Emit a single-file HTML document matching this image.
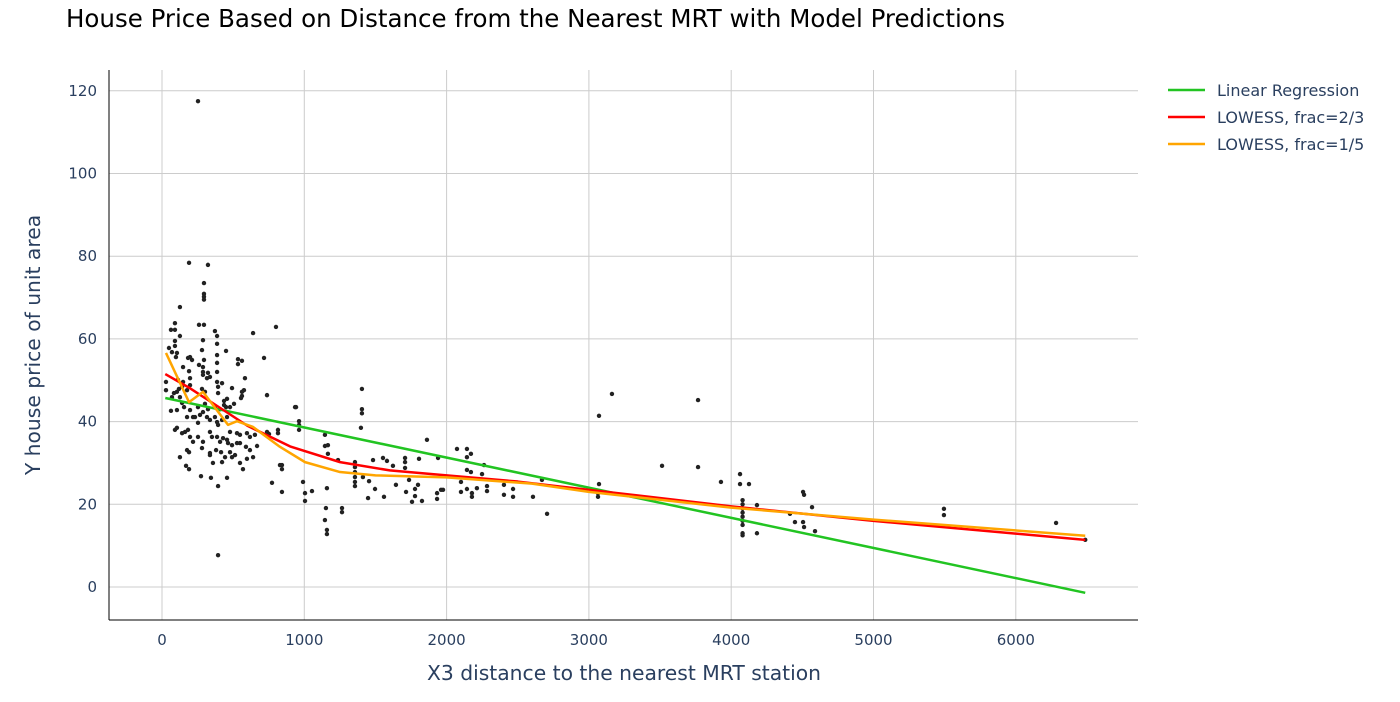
<!DOCTYPE html>
<html><head><meta charset="utf-8"><style>
body{margin:0;background:#fff;font-family:"Liberation Sans","DejaVu Sans",sans-serif;}
svg text{font-family:"DejaVu Sans","Liberation Sans",sans-serif;fill:#2a3f5f;}
</style></head><body>
<svg id="chart" width="1400" height="697" viewBox="0 0 1400 697" xmlns="http://www.w3.org/2000/svg">
<text x="66" y="27" font-size="24.5" style="fill:#000">House Price Based on Distance from the Nearest MRT with Model Predictions</text>
<g id="grid"></g><g id="pts"></g><g id="lines"></g><g id="axes"></g>
<text x="624" y="680" font-size="20.3" text-anchor="middle">X3 distance to the nearest MRT station</text>
<text transform="translate(40,345) rotate(-90)" font-size="20.3" text-anchor="middle">Y house price of unit area</text>
<g>
<line x1="1168" y1="90" x2="1205" y2="90" stroke="#22c422" stroke-width="2.5"/>
<text x="1217" y="96" font-size="16">Linear Regression</text>
<line x1="1168" y1="117" x2="1205" y2="117" stroke="#ff0000" stroke-width="2.5"/>
<text x="1217" y="123" font-size="16">LOWESS, frac=2/3</text>
<line x1="1168" y1="144" x2="1205" y2="144" stroke="#ffa500" stroke-width="2.5"/>
<text x="1217" y="150" font-size="16">LOWESS, frac=1/5</text>
</g>
</svg>
<script>
const xTicks=[0,1000,2000,3000,4000,5000,6000];
const yTicks=[0,20,40,60,80,100,120];
const ptX=[3064,3064,3071,3071,3162,3514,3767,3767,3928,4062,4062,4080,4080,4080,4080,4080,4080,4080,4080,4080,4125,4181,4181,4413,4448,4505,4512,4505,4512,4568,4589,5495,5495,6283,6488,
942,963,963,829,843,991,1005,1005,1054,1145,1145,1166,1166,1159,1152,1145,1159,1159,1265,1265,1237,1356,1356,1356,1356,1356,1356,1405,1405,1405,1398,1412,1448,1455,1483,1497,1553,1581,1560,1623,1644,1708,1708,1708,1715,1736,1778,1778,1757,1799,1806,1827,1862,1933,1933,1940,1961,1975,2073,2101,2101,2143,2143,2171,2143,2171,2178,2178,2143,2213,2249,2263,2284,2284,2403,2403,2467,2467,2607,2670,2706,
190,323,295,295,295,295,126,91,63,91,126,260,295,372,387,640,801,91,91,49,70,105,98,288,281,387,450,387,197,211,183,387,295,534,562,534,717,148,190,260,288,288,288,323,337,316,387,28,112,197,141,197,387,422,394,492,583,576,562,28,84,105,119,176,281,302,394,457,436,562,555,738,63,105,141,155,197,253,302,323,372,408,436,450,478,506,91,105,141,162,183,176,218,267,253,288,316,337,372,387,394,422,457,478,527,548,597,618,653,738,752,815,815,197,253,288,337,351,387,408,429,457,464,492,527,176,190,281,337,380,415,443,478,513,590,618,668,169,190,274,344,394,457,337,422,548,569,597,640,492,358,218,232,126,148,70,773,843,843,935,963,126,548,253,394];
const ptY=[21.8,22.7,24.9,41.4,46.7,29.3,29,45.2,25.4,24.9,27.3,21,20,19,18,17,16,15,13,12.5,24.9,19.8,13,17.7,15.7,23,22.3,15.7,14.5,19.3,13.5,18.9,17.4,15.5,11.4,
43.5,40.1,38,29.5,23,25.4,22.7,20.8,23.2,36.8,34.1,34.3,32.2,23.9,19.1,16.2,13.8,12.8,19.1,18.1,30.7,30.2,29,27.8,26.6,25.4,24.4,47.9,43,42,38.5,26.6,21.5,25.6,30.7,23.7,31.2,30.5,21.8,29.3,24.7,31.2,30.2,28.8,23,25.9,23.7,22,20.6,24.7,31,20.8,35.6,22.7,21.3,31.2,23.5,23.5,33.4,25.4,23,33.4,31.4,32.2,28.3,27.8,22.7,21.8,23.7,23.9,27.3,29.5,24.4,23.2,24.7,22.3,23.7,21.8,21.8,25.9,17.7,
78.4,77.9,73.5,70.9,70.2,69.5,67.7,63.8,62.2,62.2,60.7,63.4,63.4,61.9,60.7,61.4,62.9,59.5,58.3,57.8,56.8,56.6,55.6,59.7,57.3,58.8,57.1,56.1,55.6,54.9,55.4,54.2,54.9,55.1,54.7,53.9,55.4,53.2,52.2,53.7,53.2,52,51.3,51.8,50.8,50.5,52,49.6,50.1,50.5,48.4,48.8,49.6,49.3,48.4,48.1,50.5,47.6,47.2,47.6,46.9,47.2,47.9,47.6,47.9,47.2,46.9,45.5,45,46.2,45.7,46.4,42.6,42.8,44.5,43.5,42.8,43.5,44.3,43,43.5,43,44,43.5,43.5,44.3,38,38.5,37.2,37.5,38,41.1,41.1,41.6,39.7,42.3,41.1,40.4,41.1,39.9,39.2,40.4,41.1,37.5,37.2,36.8,37.2,36.3,36.8,37.5,37,38,37.2,36.3,36.3,35.1,37.5,36.3,36.3,35.1,36,35.6,34.8,34.3,34.8,33.1,32.6,33.6,31.9,33.1,32.6,31.4,32.6,31.9,33.9,33.1,34.1,29.3,28.5,26.8,26.4,24.4,26.4,32.4,30.2,30,28.5,31,31.4,31.4,30,35.1,41.1,45.9,49.6,45.9,25.2,29.5,28.5,43.5,39.2,31.4,34.8,117.5,7.7];
const linX=[23,6488];
const linY=[45.7,-1.4];
const l23X=[23,200,400,600,900,1251,1600,2000,2500,3000,4000,5000,6488];
const l23Y=[51.5,48,43.5,39,34,30.2,28.2,27,25.5,23.5,19.5,16,11.4];
const l15X=[28,190,288,464,527,640,829,1005,1251,1500,2000,2600,3000,4000,5000,6488];
const l15Y=[56.6,44.7,47.2,39.2,40.1,38.7,33.9,30.2,27.8,27,26.5,25,23,19.2,16.3,12.4];

const L=109,R=1138,T=70,B=620;
const sx=v=>162+v*0.1423;
const sy=v=>587-v*4.135;
const NS='http://www.w3.org/2000/svg';
function mk(tag,parent,attrs){const e=document.createElementNS(NS,tag);for(const k in attrs)e.setAttribute(k,attrs[k]);parent.appendChild(e);return e;}
const grid=document.getElementById('grid'),axes=document.getElementById('axes');
xTicks.forEach(t=>{
 const g=mk('line',grid,{x1:sx(t),x2:sx(t),y1:T,y2:B,stroke:'#cccccc','stroke-width':1});
 
 
 const tx=mk('text',axes,{x:sx(t),y:B+25,'font-size':15,'text-anchor':'middle'});tx.textContent=t;
 
 
});
yTicks.forEach(t=>{
 const g=mk('line',grid,{x1:L,x2:R,y1:sy(t),y2:sy(t),stroke:'#cccccc','stroke-width':1});
 
 
 const tx=mk('text',axes,{x:L-12,y:sy(t)+5,'font-size':15,'text-anchor':'end'});tx.textContent=t;
 
 
});
const ax1=mk('line',axes,{x1:L,x2:L,y1:T,y2:B,stroke:'#000','stroke-width':1});


const ax2=mk('line',axes,{x1:L,x2:R,y1:B,y2:B,stroke:'#000','stroke-width':1});


const pts=document.getElementById('pts');
ptX.forEach((x,i)=>{
 const c=mk('circle',pts,{cx:sx(x),cy:sy(ptY[i]),r:2.2,fill:'#222'});
 
 
});
const lines=document.getElementById('lines');
function path(xs,ys,col,name){
 const p=mk('polyline',lines,{points:xs.map((x,i)=>sx(x)+','+sy(ys[i])).join(' '),fill:'none',stroke:col,'stroke-width':2.5,'stroke-linejoin':'round'});
 
 
}
path(linX,linY,'#22c422','linear-regression-line');
path(l23X,l23Y,'#ff0000','lowess-2-3-line');
path(l15X,l15Y,'#ffa500','lowess-1-5-line');
</script>
</body></html>
